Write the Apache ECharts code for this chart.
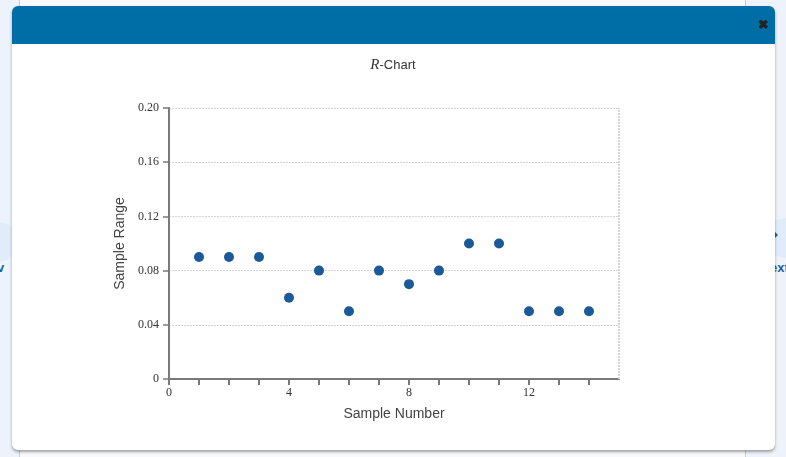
<!DOCTYPE html>
<html>
<head>
<meta charset="utf-8">
<script src="https://cdn.jsdelivr.net/npm/echarts@6/dist/echarts.min.js"></script>
<style>
  html, body { margin:0; padding:0; width:786px; height:457px; overflow:hidden; background:#eef3fb; font-family:"Liberation Sans", Arial, sans-serif; }
  #panel { position:absolute; left:19px; top:0; width:725px; height:457px; background:#f7f9fc; border-left:1px solid #c9ccd2; border-right:1px solid #c9ccd2; }
  #prev { position:absolute; left:-22px; top:222px; width:40px; height:40px; border-radius:50%; background:#e1ecfb; }
  #prevTxt { position:absolute; left:-3px; top:260px; color:#1f5f9c; font-size:13px; font-weight:bold; }
  #next { position:absolute; left:766px; top:218px; width:40px; height:40px; border-radius:50%; background:#e1ecfb; }
  #nextArrow { position:absolute; left:773px; top:230px; width:0; height:0; border-top:5px solid transparent; border-bottom:5px solid transparent; border-left:5px solid #1f5f9c; }
  #nextTxt { position:absolute; left:770px; top:260px; color:#1f5f9c; font-size:13px; font-weight:bold; }
  #modal { position:absolute; left:12px; top:6px; width:763px; height:444px; background:#fff; border-radius:6px; box-shadow:0 2px 3px rgba(0,0,0,0.35); overflow:hidden; }
  #header { position:absolute; left:0; top:0; width:100%; height:38px; background:#006ea6; }
  #close { position:absolute; right:6px; top:11px; color:#222; font-size:13px; font-weight:bold; }
  #chart { position:absolute; left:0; top:0; width:786px; height:457px; }
</style>
</head>
<body>
<div id="panel"></div>
<div id="prev"></div><div id="prevTxt">v</div>
<div id="next"></div><div id="nextArrow"></div><div id="nextTxt">ext</div>
<div id="modal"><div id="header"><span id="close">✖</span></div></div>
<div id="chart"></div>
<script>
const sampleNumbers = [1, 2, 3, 4, 5, 6, 7, 8, 9, 10, 11, 12, 13, 14];
const sampleRanges = [0.09, 0.09, 0.09, 0.06, 0.08, 0.05, 0.08, 0.07, 0.08, 0.10, 0.10, 0.05, 0.05, 0.05];
const xLabelTicks = [0, 4, 8, 12];
const yTicks = [0, 0.04, 0.08, 0.12, 0.16, 0.20];

const chart = echarts.init(document.getElementById('chart'), null, { renderer: 'canvas' });
const axisColor = '#7a7a7a';
const gridDash = { color: '#d6d6d6', width: 1, type: [2, 1] };

chart.setOption({
  backgroundColor: 'transparent',
  animation: false,
  title: {
    text: '{r|R}{c|-Chart}',
    left: 'center',
    top: 53,
    textStyle: {
      fontWeight: 'normal',
      rich: {
        r: { fontFamily: 'Liberation Serif', fontStyle: 'italic', fontWeight: 'normal', fontSize: 15, color: '#333' },
        c: { fontFamily: 'Liberation Sans', fontWeight: 'normal', fontSize: 13, color: '#333' }
      }
    }
  },
  grid: { left: 169, top: 108, width: 450, height: 271, containLabel: false },
  xAxis: {
    type: 'value',
    min: 0, max: 15, interval: 1,
    name: 'Sample Number',
    nameLocation: 'middle',
    nameGap: 28,
    nameTextStyle: { fontFamily: 'Liberation Sans', fontSize: 14, color: '#444' },
    axisLine: { show: true, onZero: false, lineStyle: { color: axisColor, width: 2 } },
    axisTick: { show: true, length: 6, lineStyle: { color: axisColor, width: 2 } },
    axisLabel: {
      fontFamily: 'Liberation Serif', fontSize: 12, color: '#333', margin: 8,
      showMaxLabel: false,
      formatter: v => xLabelTicks.includes(v) ? String(v) : ''
    },
    splitLine: { show: false }
  },
  yAxis: {
    type: 'value',
    min: 0, max: 0.20, interval: 0.04,
    name: 'Sample Range',
    nameLocation: 'middle',
    nameGap: 38,
    nameTextStyle: { fontFamily: 'Liberation Sans', fontSize: 14, color: '#444' },
    axisLine: { show: true, lineStyle: { color: axisColor, width: 2 } },
    axisTick: { show: true, length: 6, lineStyle: { color: axisColor, width: 1.5 } },
    axisLabel: {
      fontFamily: 'Liberation Serif', fontSize: 12, color: '#333', margin: 10,
      formatter: v => { const t = yTicks.find(y => Math.abs(y - v) < 1e-9); return t === 0 ? '0' : t.toFixed(2); }
    },
    splitLine: { show: true, lineStyle: gridDash }
  },
  series: [{
    type: 'scatter',
    data: sampleNumbers.map((x, i) => [x, sampleRanges[i]]),
    symbol: 'circle',
    symbolSize: 10,
    itemStyle: { color: '#1b5a99', opacity: 1 },
    markLine: {
      silent: true,
      symbol: ['none', 'none'],
      label: { show: false },
      lineStyle: { color: '#d6d6d6', width: 2, type: [2, 1] },
      data: [{ xAxis: 15 }]
    }
  }]
});
</script>
</body>
</html>
